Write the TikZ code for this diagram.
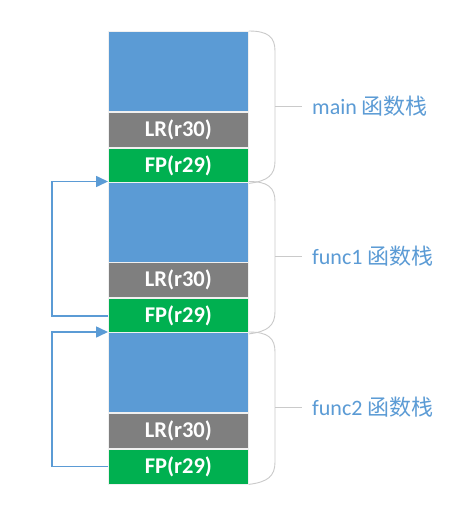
\documentclass[tikz,border=0pt]{standalone}
\usepackage{fontspec}
\setmainfont{Carlito}
\newfontfamily\cjkfont{Noto Sans CJK SC}
\usetikzlibrary{arrows.meta}
\definecolor{stackblue}{HTML}{5B9BD5}
\definecolor{lrgray}{HTML}{7F7F7F}
\definecolor{fpgreen}{HTML}{00B050}
\definecolor{bracegray}{HTML}{CACACA}

\begin{document}
\begin{tikzpicture}[x=1pt,y=-1pt,
    cell/.style={draw=white!88!gray, line width=0.8pt, minimum width=140pt,
      inner sep=0pt, text=white, font=\fontsize{22.5}{26}\selectfont\bfseries},
    brace/.style={draw=bracegray, line width=0.9pt},
    framename/.style={anchor=west, inner sep=0pt, text=stackblue,
      font=\fontsize{22}{26}\selectfont},
    link/.style={draw=stackblue, line width=1.6pt, -{Triangle[length=12pt,width=11pt]}}]
  \fill[white] (0,0) rectangle (474,522);
  \useasboundingbox (0,0) rectangle (474,522);

  % one frame per call level
  \foreach \i/\top/\fname in {1/31/main, 2/181.5/func1, 3/332/func2} {
    \node[cell, fill=stackblue, minimum height=80pt, anchor=north west] (body\i) at (108,\top) {};
    \node[cell, fill=lrgray, minimum height=35pt, anchor=north] (lr\i) at (body\i.south) {LR(r30)};
    \node[cell, fill=fpgreen, minimum height=35pt, anchor=north] (fp\i) at (lr\i.south) {FP(r29)};

    \draw[brace] (body\i.north east) .. controls (268,\top) and (275,\top+6) .. (275,\top+20)
      -- (275,\top+130) .. controls (275,\top+144) and (268,\top+150) .. (fp\i.south east);
    \coordinate (tip\i) at (275,\top+75);
    \node[framename] (name\i) at (312,\top+75) {\fname\ {\cjkfont 函数栈}};
    \draw[brace] (tip\i) -- ([xshift=-10pt]name\i.west);
  }

  % saved frame pointers
  \draw[link] (fp2.west) -- ++(-56,0) |- (body2.north west);
  \draw[link] (fp3.west) -- ++(-56,0) |- (body3.north west);
\end{tikzpicture}
\end{document}
